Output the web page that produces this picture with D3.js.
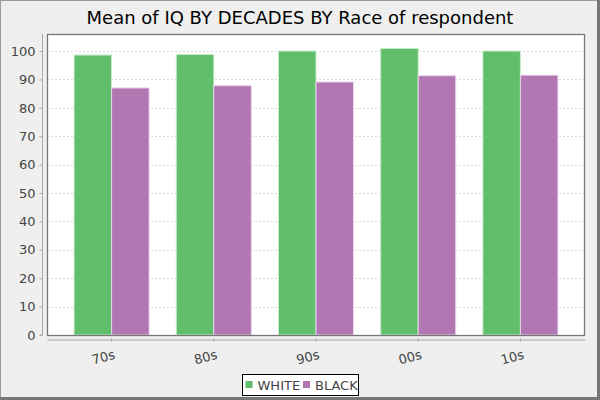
<!DOCTYPE html>
<html><head><meta charset="utf-8">
<script src="https://cdn.jsdelivr.net/npm/d3@7/dist/d3.min.js"></script>
<style>
html,body{margin:0;padding:0;background:#efefef;}
svg{display:block;font-family:"DejaVu Sans",sans-serif;}
</style></head>
<body><svg id="c" width="600" height="400"></svg>
<script>
const categories = ["70s","80s","90s","00s","10s"];
const seriesNames = ["WHITE","BLACK"];
const whiteValues = [98.6, 98.8, 100.0, 100.9, 100.0];
const blackValues = [87.0, 87.8, 89.1, 91.3, 91.5];
const yTicks = [0,10,20,30,40,50,60,70,80,90,100];
const colors = ["#61be6a","#b077b3"];
const titleText = "Mean of IQ BY DECADES BY Race of respondent";

const svg = d3.select("#c");
const L = 47, R = 585, T = 34, B = 335;

svg.append("rect").attr("x",0.5).attr("y",0.5).attr("width",599).attr("height",399)
  .attr("fill","#efefef").attr("stroke","#9a9a9a");
svg.append("rect").attr("x",597).attr("y",0).attr("width",3).attr("height",400).attr("fill","#777");
svg.append("rect").attr("x",0).attr("y",397).attr("width",600).attr("height",3).attr("fill","#777");

svg.append("text").attr("x",300).attr("y",24).attr("text-anchor","middle")
  .attr("font-size",18).attr("fill","#000").text(titleText);

const y = d3.scaleLinear().domain([0,106]).range([B,T]);
const x = d3.scaleBand().domain(categories).range([L,R]).paddingInner(0.266).paddingOuter(0.265);
const xs = d3.scaleBand().domain(seriesNames).range([0,x.bandwidth()]);

svg.append("rect").attr("x",L).attr("y",T).attr("width",R-L).attr("height",B-T).attr("fill","#fff");

// gridlines
svg.append("g").selectAll("line").data(yTicks).join("line")
  .attr("x1",L).attr("x2",R).attr("y1",d=>Math.round(y(d))+0.5).attr("y2",d=>Math.round(y(d))+0.5)
  .attr("stroke","#d8d8d8").attr("stroke-dasharray","2,2");

const data = categories.map((c,i)=>({c, vals:[whiteValues[i], blackValues[i]]}));
const g = svg.append("g");
data.forEach(d=>{
  d.vals.forEach((v,j)=>{
    g.append("rect").attr("x",x(d.c)+xs(seriesNames[j])).attr("y",y(v))
      .attr("width",xs.bandwidth()).attr("height",B-y(v))
      .attr("fill",colors[j]).attr("stroke",j===0?"#c8ecc9":"#ecd4ec").attr("stroke-width",1);
  });
});

svg.append("rect").attr("x",L+0.5).attr("y",T+0.5).attr("width",R-L-1).attr("height",B-T)
  .attr("fill","none").attr("stroke","#777").attr("stroke-width",1.3);

// y axis
const yAxis = d3.axisLeft(y).tickValues(yTicks).tickSize(3).tickPadding(4).tickFormat(d3.format("d"));
const ya = svg.append("g").attr("transform",`translate(${L-4.5},0)`).call(yAxis);
ya.select(".domain").attr("stroke","#aaa").attr("d",`M-3,${B}H0V${T}`);
ya.selectAll(".tick line").attr("stroke","#aaa");
ya.selectAll(".tick text").attr("font-size",13).attr("fill","#444").attr("font-family","DejaVu Sans");

// x axis
const xAxis = d3.axisBottom(x).tickSize(3).tickSizeOuter(0);
const xa = svg.append("g").attr("transform",`translate(0,${B+4.5})`).call(xAxis);
xa.select(".domain").attr("stroke","#aaa");
xa.selectAll(".tick line").attr("stroke","#aaa").attr("y1",-1).attr("y2",2);
xa.selectAll(".tick text").attr("font-size",13).attr("fill","#444").attr("font-family","DejaVu Sans")
  .attr("text-anchor","middle").attr("y",0).attr("dy",0)
  .attr("transform","translate(-7,22) rotate(-15)");

// legend
const lg = svg.append("g");
lg.append("rect").attr("x",242.5).attr("y",374.5).attr("width",116).attr("height",21)
  .attr("fill","#fff").attr("stroke","#000");
const legX = [245.5, 303];
seriesNames.forEach((s,j)=>{
  lg.append("rect").attr("x",legX[j]).attr("y",381).attr("width",7).attr("height",7).attr("fill",colors[j]);
  lg.append("text").attr("x",legX[j]+12).attr("y",390).attr("font-size",13).attr("fill","#444").text(s);
});
</script></body></html>
